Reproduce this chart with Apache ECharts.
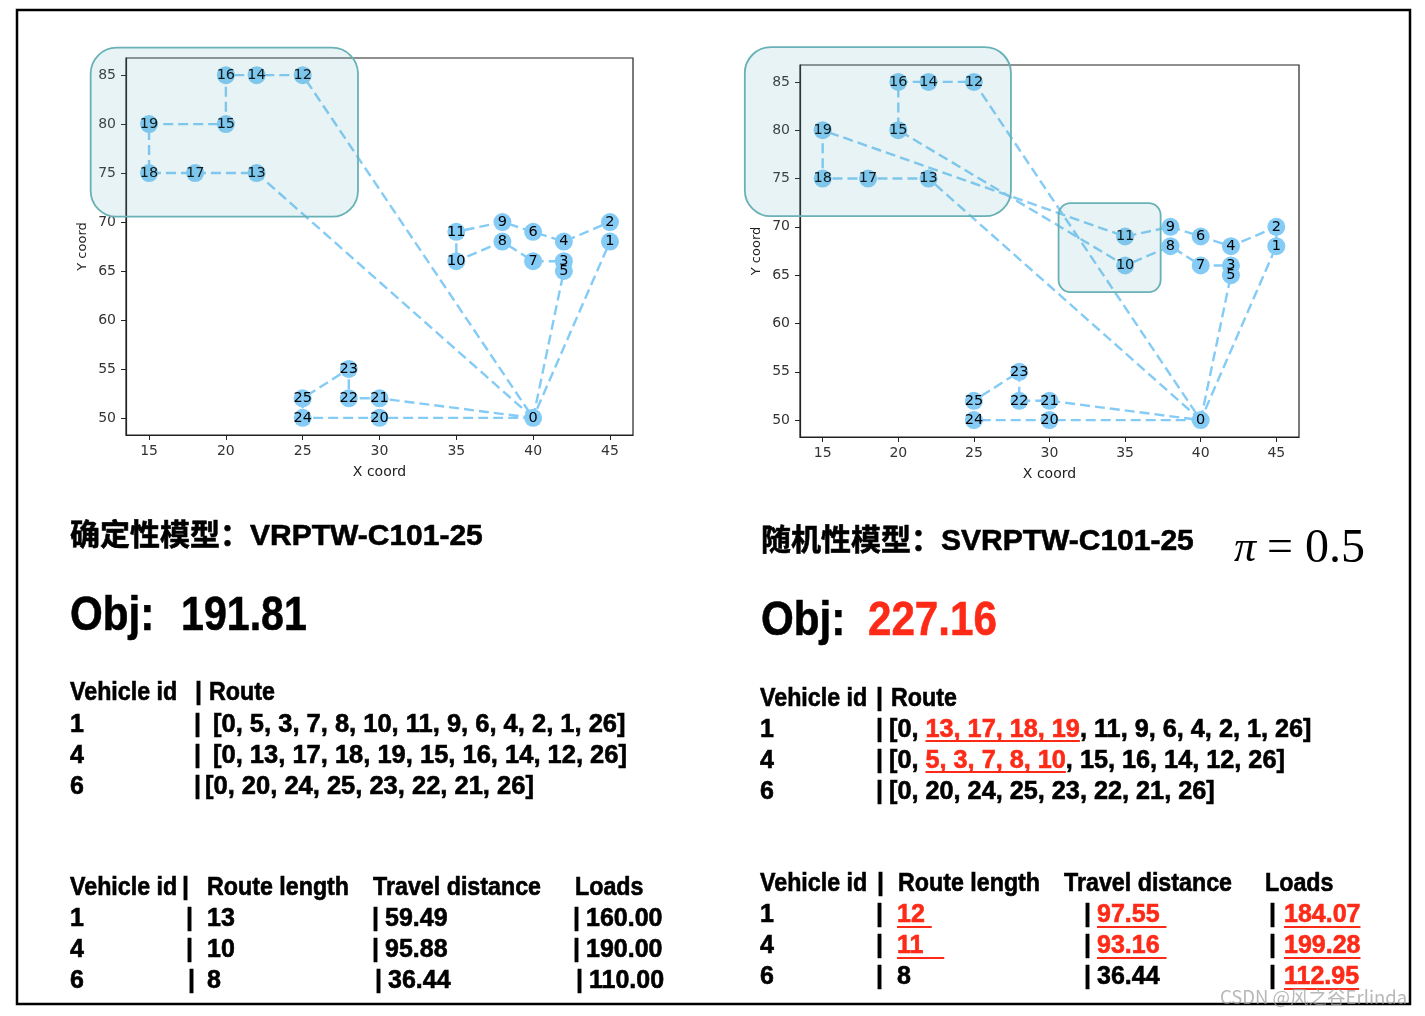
<!DOCTYPE html>
<html>
<head>
<meta charset="utf-8">
<script src="https://cdn.jsdelivr.net/npm/echarts@6/dist/echarts.min.js"></script>
<style>
html,body{margin:0;padding:0;background:#fff;}
#main{width:1425px;height:1016px;}
</style>
</head>
<body>
<div id="main"></div>
<script>
// ---------- data ----------
const nodeIds = [0,1,2,3,4,5,6,7,8,9,10,11,12,13,14,15,16,17,18,19,20,21,22,23,24,25];
const nodeX = [40,45,45,42,42,42,40,40,38,38,35,35,25,22,22,20,20,18,15,15,30,30,28,28,25,25];
const nodeY = [50,68,70,66,68,65,69,66,68,70,66,69,85,75,85,80,85,75,75,80,50,52,52,55,50,52];
const xTicks = [15,20,25,30,35,40,45];
const yTicks = [50,55,60,65,70,75,80,85];
const depotEnd = 26; // route end marker (= depot 0)
const detRoutes = [
  [0,5,3,7,8,10,11,9,6,4,2,1,26],
  [0,13,17,18,19,15,16,14,12,26],
  [0,20,24,25,23,22,21,26]
];
const stoRoutes = [
  [0,13,17,18,19,11,9,6,4,2,1,26],
  [0,5,3,7,8,10,15,16,14,12,26],
  [0,20,24,25,23,22,21,26]
];
const vehicleIds = [1,4,6];
const detLength = [13,10,8];
const detDist = ['59.49','95.88','36.44'];
const detLoads = ['160.00','190.00','110.00'];
const stoLength = [12,11,8];
const stoDist = ['97.55','93.16','36.44'];
const stoLoads = ['184.07','199.28','112.95'];
const detObj = '191.81';
const stoObj = '227.16';
const detTitle = '确定性模型：VRPTW-C101-25';
const stoTitle = '随机性模型：SVRPTW-C101-25';
// highlighted regions in data coordinates [xMin, xMax, yMin, yMax]
const detHighlights = [[11.2, 28.6, 70.55, 87.8]];
const stoHighlights = [[9.85, 27.45, 71.1, 88.6], [30.6, 37.35, 63.25, 72.45]];

// ---------- chart ----------
const chart = echarts.init(document.getElementById('main'));
const BLUE = '#84cbf6';
const RED = '#fd2a17';

function routeSeries(routes, gi){
  return routes.map(r => ({
    type:'line', xAxisIndex:gi, yAxisIndex:gi, showSymbol:false, symbol:'none', z:2,
    silent:true, animation:false,
    lineStyle:{color:BLUE, width:2.4, type:[10,5]},
    data: r.map(id => { const k = id === depotEnd ? 0 : id; return [nodeX[k], nodeY[k]]; })
  }));
}
function nodeSeries(gi){
  return {
    type:'scatter', xAxisIndex:gi, yAxisIndex:gi, symbolSize:18, z:3, animation:false,
    itemStyle:{color:BLUE, opacity:1},
    label:{show:true, position:'inside', color:'#000', fontSize:14.5, fontFamily:'DejaVu Sans',
      formatter: p => String(p.value[2])},
    data: nodeIds.map((id,i) => [nodeX[i], nodeY[i], id])
  };
}
function xAx(gi){
  return {type:'value', gridIndex:gi, min:13.5, max:46.5,
    axisLine:{show:true, onZero:false, lineStyle:{color:'#222', width:1.2}},
    axisTick:{show:true, length:5, customValues:xTicks, lineStyle:{color:'#222', width:1}},
    axisLabel:{customValues:xTicks, color:'#333', fontSize:14, fontFamily:'DejaVu Sans', margin:9},
    splitLine:{show:false},
    name:'X coord', nameLocation:'middle', nameGap:30,
    nameTextStyle:{color:'#222', fontSize:14, fontFamily:'DejaVu Sans'}};
}
function yAx(gi){
  return {type:'value', gridIndex:gi, min:48.25, max:86.75,
    axisLine:{show:true, onZero:false, lineStyle:{color:'#222', width:1.2}},
    axisTick:{show:true, length:5, customValues:yTicks, lineStyle:{color:'#222', width:1}},
    axisLabel:{customValues:yTicks, color:'#333', fontSize:14, fontFamily:'DejaVu Sans', margin:10},
    splitLine:{show:false},
    name:'Y coord', nameLocation:'middle', nameGap:37, nameRotate:90,
    nameTextStyle:{color:'#222', fontSize:13, fontFamily:'DejaVu Sans'}};
}

chart.setOption({
  animation:false,
  backgroundColor:'#fff',
  grid:[
    {left:126, top:58, width:507, height:377, show:true, borderColor:'#222', borderWidth:1.2, backgroundColor:'transparent'},
    {left:800, top:65, width:499, height:372, show:true, borderColor:'#222', borderWidth:1.2, backgroundColor:'transparent'}
  ],
  xAxis:[xAx(0), xAx(1)],
  yAxis:[yAx(0), yAx(1)],
  series:[].concat(routeSeries(detRoutes,0), [nodeSeries(0)], routeSeries(stoRoutes,1), [nodeSeries(1)])
});

// ---------- graphics ----------
const g = [];
function hlRects(list, gi, radii){
  list.forEach((h,i) => {
    const p1 = chart.convertToPixel({gridIndex:gi}, [h[0], h[3]]);
    const p2 = chart.convertToPixel({gridIndex:gi}, [h[1], h[2]]);
    g.push({type:'rect', z:100, silent:true,
      shape:{x:p1[0], y:p1[1], width:p2[0]-p1[0], height:p2[1]-p1[1], r:radii[i]},
      style:{fill:'rgba(95,172,182,0.15)', stroke:'#68b1b6', lineWidth:1.8}});
  });
}
hlRects(detHighlights, 0, [26]);
hlRects(stoHighlights, 1, [26, 12]);

const mctx = document.createElement('canvas').getContext('2d');
const FAM = '"Liberation Sans", Arial, "Noto Sans CJK SC"';
function measure(t, size){ mctx.font = 'bold ' + size + 'px ' + FAM; return mctx.measureText(t).width; }
// pieces: [{t, c, u}]
function textRun(x, y, pieces, size, sx, uOff){
  let cx = x;
  pieces.forEach(p => {
    const col = p.c || '#000';
    const w = measure(p.t, size) * sx;
    g.push({type:'text', x:cx, y:y, scaleX:sx, z:120, silent:true,
      style:{text:p.t, fontSize:size, fontWeight:'bold', fontFamily:FAM, fill:col,
        stroke:col, lineWidth:0.6, align:'left', verticalAlign:'middle'}});
    if(p.u){
      g.push({type:'line', z:120, silent:true,
        shape:{x1:cx, y1:y+uOff, x2:cx+w, y2:y+uOff}, style:{stroke:col, lineWidth:2}});
    }
    cx += w;
  });
  return cx;
}

// titles
textRun(70, 537, [{t:detTitle}], 30, 1, 0);
textRun(761, 542, [{t:stoTitle}], 30, 1, 0);
// pi = 0.5
const SERIF = '"Liberation Serif", "DejaVu Serif"';
g.push({type:'text', x:1234, y:549, z:120, silent:true,
  style:{text:'π', fontSize:44, fontStyle:'italic', fontFamily:SERIF, fill:'#000', verticalAlign:'middle', align:'left'}});
g.push({type:'text', x:1267, y:549, z:120, silent:true,
  style:{text:'=', fontSize:46, fontFamily:SERIF, fill:'#000', verticalAlign:'middle', align:'left'}});
g.push({type:'text', x:1305, y:549, z:120, silent:true,
  style:{text:'0.5', fontSize:48, fontFamily:SERIF, fill:'#000', verticalAlign:'middle', align:'left'}});
// objectives
textRun(70, 616, [{t:'Obj:'}], 49, 0.86, 0);
textRun(181, 616, [{t:detObj}], 49, 0.84, 0);
textRun(761, 621, [{t:'Obj:'}], 49, 0.86, 0);
textRun(868, 621, [{t:stoObj, c:RED}], 49, 0.86, 0);

// route tables
const TS = 25;
function routeStr(r){ return '[' + r.join(', ') + ']'; }
// left
textRun(70, 693, [{t:'Vehicle id'}], TS, 0.93, 0);
textRun(195, 693, [{t:'|'}], TS, 1, 0);
textRun(209, 693, [{t:'Route'}], TS, 0.93, 0);
const lRowY = [725, 756, 787];
const lRouteX = [213, 213, 205];
detRoutes.forEach((r,i) => {
  textRun(70, lRowY[i], [{t:String(vehicleIds[i])}], TS, 1, 0);
  textRun(194, lRowY[i], [{t:'|'}], TS, 1, 0);
  textRun(lRouteX[i], lRowY[i], [{t:routeStr(r)}], TS, 1.02, 0);
});
// right
textRun(760, 699, [{t:'Vehicle id'}], TS, 0.93, 0);
textRun(876, 699, [{t:'|'}], TS, 1, 0);
textRun(891, 699, [{t:'Route'}], TS, 0.93, 0);
const rRowY = [730, 761, 792];
const changedCount = [4, 5, 0];
stoRoutes.forEach((r,i) => {
  textRun(760, rRowY[i], [{t:String(vehicleIds[i])}], TS, 1, 0);
  textRun(876, rRowY[i], [{t:'|'}], TS, 1, 0);
  const n = changedCount[i];
  let pieces;
  if(n > 0){
    pieces = [{t:'[0, '}, {t:r.slice(1, 1+n).join(', '), c:RED, u:true}, {t:', ' + r.slice(1+n).join(', ') + ']'}];
  } else {
    pieces = [{t:routeStr(r)}];
  }
  textRun(889, rRowY[i], pieces, TS, 1.01, 11);
});

// summary tables
// left
const lhY = 888, lY = [919, 950, 981];
textRun(70, lhY, [{t:'Vehicle id'}], TS, 0.93, 0);
textRun(182, lhY, [{t:'|'}], TS, 1, 0);
textRun(207, lhY, [{t:'Route length'}], TS, 0.93, 0);
textRun(373, lhY, [{t:'Travel distance'}], TS, 0.93, 0);
textRun(575, lhY, [{t:'Loads'}], TS, 0.93, 0);
const lBar1 = [186, 186, 188], lBar2 = [372, 372, 375], lBar3 = [573, 573, 576];
vehicleIds.forEach((v,i) => {
  textRun(70, lY[i], [{t:String(v)}], TS, 1, 0);
  textRun(lBar1[i], lY[i], [{t:'|'}], TS, 1, 0);
  textRun(207, lY[i], [{t:String(detLength[i])}], TS, 1, 0);
  textRun(lBar2[i], lY[i], [{t:'|'}], TS, 1, 0);
  textRun(lBar2[i]+13, lY[i], [{t:detDist[i]}], TS, 1, 0);
  textRun(lBar3[i], lY[i], [{t:'|'}], TS, 1, 0);
  textRun(lBar3[i]+13, lY[i], [{t:detLoads[i]}], TS, 1, 0);
});
// right
const rhY = 884, rY = [915, 946, 977];
textRun(760, rhY, [{t:'Vehicle id'}], TS, 0.93, 0);
textRun(877, rhY, [{t:'|'}], TS, 1, 0);
textRun(898, rhY, [{t:'Route length'}], TS, 0.93, 0);
textRun(1064, rhY, [{t:'Travel distance'}], TS, 0.93, 0);
textRun(1265, rhY, [{t:'Loads'}], TS, 0.93, 0);
const lenPad = [' ', '   ', ''], distPad = [' ', ' ', ''];
vehicleIds.forEach((v,i) => {
  textRun(760, rY[i], [{t:String(v)}], TS, 1, 0);
  textRun(876, rY[i], [{t:'|'}], TS, 1, 0);
  const lenChanged = stoLength[i] !== detLength[i];
  textRun(897, rY[i], [{t:String(stoLength[i]) + lenPad[i], c: lenChanged ? RED : '#000', u: lenChanged}], TS, 1, 12);
  textRun(1084, rY[i], [{t:'|'}], TS, 1, 0);
  const dChanged = stoDist[i] !== detDist[i];
  textRun(1097, rY[i], [{t:stoDist[i] + distPad[i], c: dChanged ? RED : '#000', u: dChanged}], TS, 1, 12);
  textRun(1269, rY[i], [{t:'|'}], TS, 1, 0);
  const lChanged = stoLoads[i] !== detLoads[i];
  textRun(1284, rY[i], [{t:stoLoads[i], c: lChanged ? RED : '#000', u: lChanged}], TS, 1, 12);
});

// frame
g.push({type:'rect', z:110, silent:true, shape:{x:17, y:10, width:1393, height:994},
  style:{fill:'none', stroke:'#000', lineWidth:2.5}});
// watermark
g.push({type:'text', x:1220, y:997, z:130, silent:true,
  style:{text:'CSDN @风之谷Erlinda', fontSize:18.5, fontFamily:'"Noto Sans CJK SC", "Liberation Sans"',
    fill:'rgba(160,160,160,0.75)', align:'left', verticalAlign:'middle'}});

chart.setOption({graphic: g});
</script>
</body>
</html>
